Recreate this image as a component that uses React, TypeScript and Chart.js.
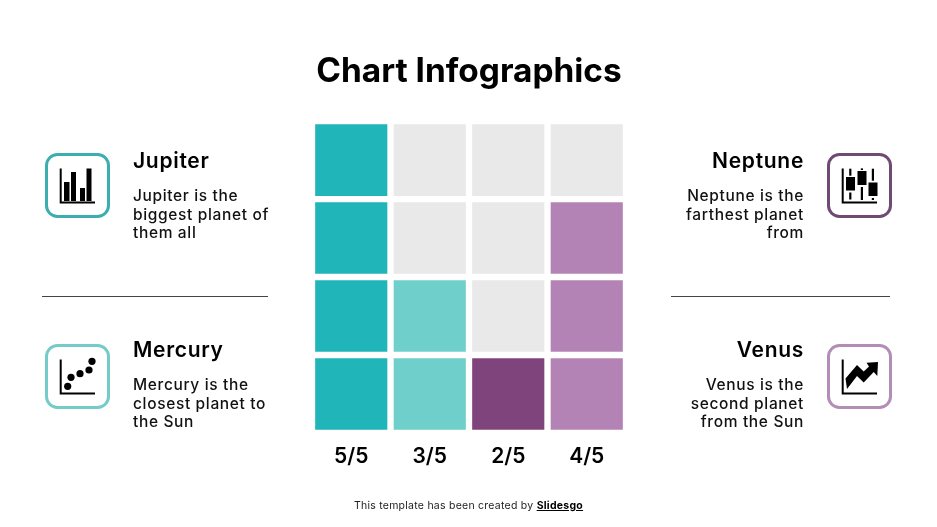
import React, { useEffect, useRef } from "react";
import { Chart, registerables } from "chart.js";

Chart.register(...registerables);

const FONT = "Inter, 'Noto Sans', sans-serif";

const columnLabels = ["5/5", "3/5", "2/5", "4/5"];
const topRow = [1, 1, 1, 1];
const upperRow = [1, 1, 1, 1];
const lowerRow = [1, 1, 1, 1];
const bottomRow = [1, 1, 1, 1];

const EMPTY = "#E9E9E9";
const TEAL = "#20B5B8";
const LIGHT_TEAL = "#6ECFCB";
const DARK_PURPLE = "#7F447B";
const LIGHT_PURPLE = "#B383B5";

const topColors = [TEAL, EMPTY, EMPTY, EMPTY];
const upperColors = [TEAL, EMPTY, EMPTY, LIGHT_PURPLE];
const lowerColors = [TEAL, LIGHT_TEAL, EMPTY, LIGHT_PURPLE];
const bottomColors = [TEAL, LIGHT_TEAL, DARK_PURPLE, LIGHT_PURPLE];

const abs = (s: React.CSSProperties): React.CSSProperties => ({ position: "absolute", ...s });

function Panel({ title, lines, side, top }: { title: string; lines: string[]; side: "left" | "right"; top: number }) {
  const pos: React.CSSProperties = side === "left" ? { left: 133, textAlign: "left" } : { right: 133, textAlign: "right" };
  return (
    <>
      <div style={abs({ ...pos, top: top + 1, fontSize: 21, letterSpacing: 0.7, lineHeight: "26px", fontWeight: 600, color: "#000", whiteSpace: "nowrap" })}>{title}</div>
      <div style={abs({ ...pos, top: top + 40, fontSize: 15.5, letterSpacing: 0.65, lineHeight: "18.5px", fontWeight: 500, color: "#111", whiteSpace: "nowrap" })}>
        {lines.map((l) => (
          <div key={l}>{l}</div>
        ))}
      </div>
    </>
  );
}

function Icon({ x, y, color, children }: { x: number; y: number; color: string; children: React.ReactNode }) {
  return (
    <svg width={65} height={65} viewBox="0 0 65 65" style={abs({ left: x, top: y })}>
      <rect x={1.5} y={1.5} width={62} height={62} rx={11} fill="#fff" stroke={color} strokeWidth={3} />
      <path d="M15.7 15.5V49.5H50" fill="none" stroke="#000" strokeWidth={2} />
      {children}
    </svg>
  );
}

export default function App() {
  const ref = useRef<HTMLCanvasElement>(null);
  useEffect(() => {
    if (!ref.current) return;
    const rows = [
      { label: "Row 4", data: bottomRow, backgroundColor: bottomColors },
      { label: "Row 3", data: lowerRow, backgroundColor: lowerColors },
      { label: "Row 2", data: upperRow, backgroundColor: upperColors },
      { label: "Row 1", data: topRow, backgroundColor: topColors },
    ];
    const chart = new Chart(ref.current, {
      type: "bar",
      data: {
        labels: columnLabels,
        datasets: rows.map((r) => ({
          ...r,
          borderColor: "#FFFFFF",
          borderWidth: 3.5,
          borderSkipped: false,
          barPercentage: 1,
          categoryPercentage: 1,
        })),
      },
      options: {
        animation: false,
        responsive: false,
        layout: { padding: { left: 312, right: 311, top: 52, bottom: 0 } },
        plugins: {
          legend: { display: false },
          tooltip: { enabled: false },
          title: {
            display: true,
            text: "Chart Infographics",
            color: "#000",
            font: { family: FONT, size: 33.4, weight: "700" },
            padding: { top: 0, bottom: 29 },
          },
        },
        scales: {
          x: {
            stacked: true,
            grid: { display: false },
            border: { display: false },
            ticks: { color: "#000", font: { family: FONT, size: 21, weight: "600" }, padding: 3, maxRotation: 0 },
            afterFit: (s: any) => {
              s.height = 94;
            },
          },
          y: { stacked: true, display: false, min: 0, max: 4 },
        },
      },
    });
    return () => chart.destroy();
  }, []);

  return (
    <div style={abs({ left: 0, top: 0, width: 937, height: 527, background: "#fff", overflow: "hidden", fontFamily: FONT })}>
      <canvas ref={ref} width={937} height={527} style={abs({ left: 0, top: 0, width: 937, height: 527 })} />

      <Panel side="left" top={147} title="Jupiter" lines={["Jupiter is the", "biggest planet of", "them all"]} />
      <Panel side="left" top={336} title="Mercury" lines={["Mercury is the", "closest planet to", "the Sun"]} />
      <Panel side="right" top={147} title="Neptune" lines={["Neptune is the", "farthest planet", "from"]} />
      <Panel side="right" top={336} title="Venus" lines={["Venus is the", "second planet", "from the Sun"]} />

      <div style={abs({ left: 42, top: 296, width: 226, height: 1, background: "#444" })} />
      <div style={abs({ left: 671, top: 296, width: 219, height: 1, background: "#444" })} />

      <Icon x={45} y={153} color="#3CAEB0">
        <rect x={19} y={29} width={5.5} height={19} />
        <rect x={26} y={19} width={5} height={29} />
        <rect x={35} y={35} width={5} height={13} />
        <rect x={41.5} y={15.5} width={5} height={32.5} />
      </Icon>
      <Icon x={45} y={344} color="#74CBC8">
        <circle cx={22.7} cy={42.3} r={3.6} />
        <circle cx={26} cy={33.3} r={3.6} />
        <circle cx={35} cy={29.7} r={3.6} />
        <circle cx={44} cy={26} r={3.6} />
        <circle cx={47} cy={17.3} r={3.6} />
      </Icon>
      <Icon x={827} y={153} color="#6F4A72">
        <rect x={19} y={24} width={9} height={13.5} />
        <rect x={22.2} y={15.7} width={2.2} height={7} />
        <rect x={22.2} y={39.5} width={2.2} height={7} />
        <rect x={30.5} y={18} width={9} height={14} />
        <rect x={33.8} y={15.4} width={2.2} height={1.6} />
        <rect x={33.8} y={34} width={2.2} height={13} />
        <rect x={41.5} y={29.5} width={9} height={13.5} />
        <rect x={44.8} y={15.7} width={2.2} height={12} />
        <rect x={44.8} y={45} width={2.2} height={2} />
      </Icon>
      <Icon x={827} y={344} color="#B28DB6">
        <path d="M18.5 34.5L30 21L36.7 27.5L42 22.5L39.5 18.8L51 18L50.3 32L46.7 28L36.7 38.5L30 32L20 45Z" />
      </Icon>

      <div style={abs({ left: 0, width: 937, top: 499, textAlign: "center", fontSize: 10.5, letterSpacing: 0.25, lineHeight: "14px", color: "#222" })}>
        This template has been created by <b style={{ color: "#000", textDecoration: "underline" }}>Slidesgo</b>
      </div>
    </div>
  );
}
